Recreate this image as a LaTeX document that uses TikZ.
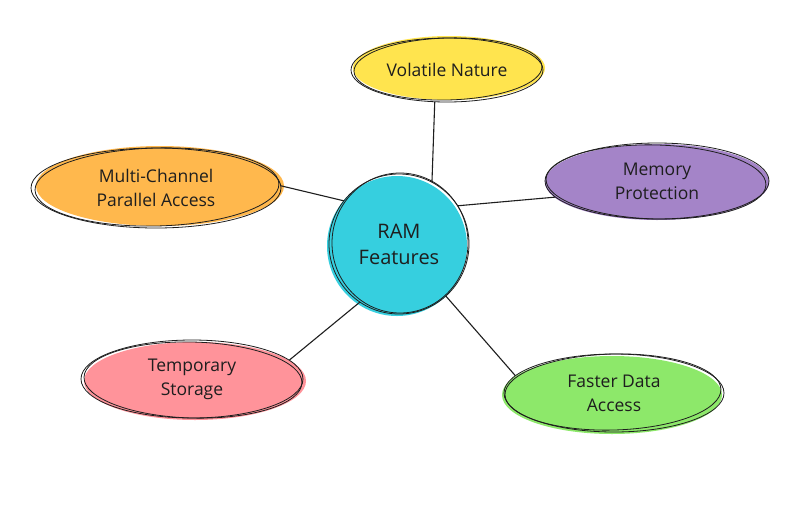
\documentclass[tikz,border=0pt]{standalone}
\usepackage{fontspec}
\setmainfont{Open Sans}
\usetikzlibrary{shapes.geometric}
\definecolor{cyanf}{HTML}{36CFDF}
\definecolor{yelf}{HTML}{FFE44E}
\definecolor{purf}{HTML}{A484C8}
\definecolor{oraf}{HTML}{FFB84D}
\definecolor{pinf}{HTML}{FF939A}
\definecolor{grnf}{HTML}{8DE86A}
\definecolor{ink}{HTML}{1E1E1E}
\tikzset{
  bubble/.style={ellipse, inner sep=0pt, align=center, text=ink,
    font=\fontsize{17.5}{24}\selectfont},
  hub/.style={circle, inner sep=0pt, minimum size=140pt, align=center, text=ink,
    font=\fontsize{20}{26}\selectfont},
  sketch/.style={draw=ink, line width=0.8pt},
  link/.style={draw=ink, line width=1.1pt}
}
\begin{document}
\begin{tikzpicture}[x=1pt,y=-1pt]
\useasboundingbox[fill=white] (0,0) rectangle (800,517);
% fills
\fill[yelf] (449,68) ellipse [x radius=96, y radius=32];
\fill[purf] (657,182) ellipse [x radius=112, y radius=38];
\fill[oraf] (160,186) ellipse [x radius=124, y radius=40];
\fill[pinf] (195,381) ellipse [x radius=111, y radius=39];
\fill[grnf] (612,395) ellipse [x radius=110, y radius=39];
\fill[cyanf] (397,246) circle [radius=70];
% nodes
\node[bubble, minimum width=192pt, minimum height=64pt] (vol) at (447,70) {Volatile Nature};
\node[bubble, minimum width=224pt, minimum height=76pt] (mem) at (657,181) {Memory\\Protection};
\node[bubble, minimum width=250pt, minimum height=80pt] (mul) at (156,188) {Multi-Channel\\Parallel Access};
\node[bubble, minimum width=222pt, minimum height=78pt] (tem) at (192,379) {Temporary\\Storage};
\node[bubble, minimum width=220pt, minimum height=78pt] (fas) at (614,393) {Faster Data\\Access};
\node[hub] (ram) at (399,244) {RAM\\Features};
% sketchy outlines
\draw[sketch] (447,70) ellipse [x radius=96, y radius=32];
\draw[sketch, rotate around={1.5:(447,70)}] (448,69) ellipse [x radius=94, y radius=31];
\draw[sketch] (657,181) ellipse [x radius=112, y radius=38];
\draw[sketch, rotate around={-1.5:(657,181)}] (656,182) ellipse [x radius=110, y radius=37];
\draw[sketch] (156,188) ellipse [x radius=125, y radius=40];
\draw[sketch, rotate around={1.5:(156,188)}] (157,187) ellipse [x radius=122, y radius=39];
\draw[sketch] (192,379) ellipse [x radius=111, y radius=39];
\draw[sketch, rotate around={-1.5:(192,379)}] (193,380) ellipse [x radius=109, y radius=38];
\draw[sketch] (614,393) ellipse [x radius=110, y radius=39];
\draw[sketch, rotate around={1.5:(614,393)}] (613,392) ellipse [x radius=108, y radius=38];
\draw[sketch] (399,244) circle [radius=70];
\draw[sketch] (400,243) ellipse [x radius=68, y radius=70];
% connectors
\draw[link] (vol.249) -- (ram.62);
\draw[link] (mem.189) -- (ram.33);
\draw[link] (mul.1) -- (ram.142);
\draw[link] (tem.11) -- (ram.236);
\draw[link] (fas.170) -- (ram.312);
\end{tikzpicture}
\end{document}
